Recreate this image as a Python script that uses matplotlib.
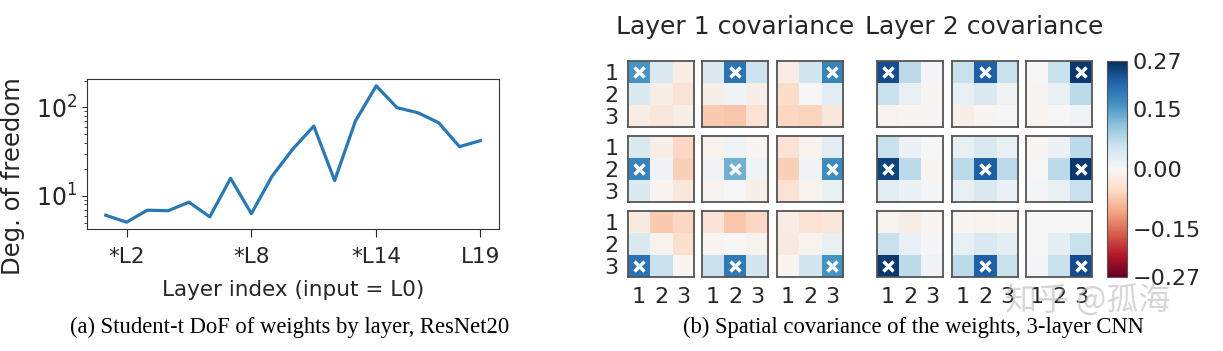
import numpy as np
import matplotlib
matplotlib.use("Agg")
import matplotlib.pyplot as plt

# ---- data ----
layers = np.arange(1, 20)
dof = [6.05, 5.05, 6.9, 6.8, 8.5, 5.8, 15.8, 6.3, 16.8, 34.0, 61.5, 14.9,
       70.0, 175.0, 99.0, 87.0, 67.0, 36.0, 42.0]
xtick_pos = [2, 8, 14, 19]
xtick_lab = ["*L2", "*L8", "*L14", "L19"]

# covariance of weight (r, c) with every 3x3 position, layer 1 / layer 2
cov_l1 = np.array([
    [[[0.16, 0.04, -0.02], [0.04, -0.015, -0.035], [-0.02, -0.03, -0.015]],
     [[0.04, 0.20, 0.055], [-0.015, 0.01, -0.015], [-0.07, -0.075, -0.04]],
     [[-0.02, 0.05, 0.18], [-0.05, 0.0, 0.03], [-0.055, -0.06, -0.03]]],
    [[[0.04, -0.015, -0.055], [0.18, 0.01, -0.065], [0.04, -0.005, -0.03]],
     [[-0.01, 0.01, -0.005], [0.01, 0.13, 0.01], [-0.01, 0.0, -0.015]],
     [[-0.04, -0.01, 0.03], [-0.065, 0.01, 0.17], [-0.04, -0.01, 0.02]]],
    [[[-0.025, -0.07, -0.055], [0.04, -0.01, -0.045], [0.20, 0.06, -0.005]],
     [[-0.035, -0.075, -0.055], [-0.005, 0.0, -0.01], [0.06, 0.19, 0.05]],
     [[-0.02, -0.04, -0.03], [-0.025, -0.01, 0.02], [-0.005, 0.05, 0.16]]],
])
cov_l2 = np.array([
    [[[0.24, 0.07, 0.005], [0.06, 0.02, -0.005], [-0.01, -0.005, -0.005]],
     [[0.06, 0.22, 0.06], [0.02, 0.04, 0.01], [-0.015, -0.005, 0.0]],
     [[0.0, 0.06, 0.26], [-0.005, 0.02, 0.07], [-0.005, 0.0, 0.01]]],
    [[[0.06, 0.015, 0.0], [0.25, 0.07, -0.005], [0.03, 0.015, 0.005]],
     [[0.02, 0.04, 0.02], [0.07, 0.22, 0.07], [0.02, 0.04, 0.015]],
     [[-0.005, 0.015, 0.07], [0.0, 0.07, 0.26], [0.005, 0.02, 0.06]]],
    [[[-0.01, -0.015, -0.005], [0.06, 0.02, 0.005], [0.26, 0.07, 0.01]],
     [[-0.005, -0.01, -0.005], [0.02, 0.04, 0.025], [0.07, 0.22, 0.06]],
     [[0.0, 0.0, 0.0], [0.0, 0.025, 0.06], [0.005, 0.06, 0.24]]],
])
vlim = 0.27
cbar_ticks = [-0.27, -0.15, 0.0, 0.15, 0.27]
grid_labels = ["1", "2", "3"]

TXT = "#262626"
plt.rcParams["font.family"] = ["DejaVu Sans"]
plt.rcParams["text.color"] = TXT
plt.rcParams["axes.labelcolor"] = TXT
plt.rcParams["xtick.color"] = TXT
plt.rcParams["ytick.color"] = TXT

W, H = 1223, 351
fig = plt.figure(figsize=(W / 100, H / 100), dpi=100)


def px_axes(x0, y0, x1, y1):
    return fig.add_axes([x0 / W, 1 - y1 / H, (x1 - x0) / W, (y1 - y0) / H])


# ---- (a) DoF line plot ----
ax = px_axes(87, 79, 499, 229)
ax.plot(layers, dof, color="#2878b5", lw=2.3)
ax.set_yscale("log")
ax.set_xticks(xtick_pos)
ax.set_xticklabels(xtick_lab)
ax.tick_params(axis="x", labelsize=15.5, length=6, pad=7)
ax.tick_params(axis="y", labelsize=17)
ax.set_ylabel("Deg. of freedom", fontsize=17.5, va="center")
ax.yaxis.set_label_coords(-0.18, 0.353)
ax.set_xlabel("Layer index (input = L0)", fontsize=15.5, va="center")
ax.xaxis.set_label_coords(0.5, -0.407)
for s in ax.spines.values():
    s.set_color("#333333")
    s.set_linewidth(0.8)

# ---- (b) covariance grids ----
cell = 66
cols_x = [[628, 702, 777], [877, 952, 1026]]
rows_y = [61, 136, 211]
im = None
for b, cov in enumerate([cov_l1, cov_l2]):
    for r in range(3):
        for c in range(3):
            x0, y0 = cols_x[b][c], rows_y[r]
            a = px_axes(x0, y0, x0 + cell, y0 + cell)
            im = a.imshow(cov[r, c], cmap="RdBu", vmin=-vlim, vmax=vlim,
                          aspect="auto")
            a.plot(c, r, marker="x", color="white", ms=7, mew=2.5)
            a.set_xticks(range(3))
            a.set_yticks(range(3))
            a.tick_params(length=0, labelsize=16, pad=7)
            a.tick_params(axis="y", pad=7)
            a.set_xticklabels(grid_labels if r == 2 else [])
            a.set_yticklabels(grid_labels if (b == 0 and c == 0) else [])
            for s in a.spines.values():
                s.set_color("#555555")
                s.set_linewidth(1.3)
    mid = (cols_x[b][0] + cols_x[b][2] + cell) / 2
    fig.text(mid / W, 1 - 27 / H, "Layer %d covariance" % (b + 1),
             ha="center", va="center", fontsize=18)

cax = px_axes(1107, 61, 1127, 277)
cb = fig.colorbar(im, cax=cax, ticks=cbar_ticks)
cb.ax.set_yticklabels(["%.2f" % t if t >= 0 else "\u2212%.2f" % -t for t in cbar_ticks])
cb.ax.tick_params(length=0, labelsize=16, pad=4)
cb.outline.set_edgecolor("#555555")

# ---- captions ----
cap = dict(family=["Liberation Serif"], fontsize=16.3, color="black",
           ha="center", va="center")
fig.text(290 / W, 1 - 327 / H, "(a) Student-t DoF of weights by layer, ResNet20", **cap)
fig.text(913 / W, 1 - 327 / H, "(b) Spatial covariance of the weights, 3-layer CNN", **cap)

# watermark
fig.text(1088 / W, 1 - 300 / H, "知乎 @孤海", family=["Noto Sans CJK SC", "DejaVu Sans"],
         fontsize=23, color="#bbbbbb", alpha=0.6, ha="center", va="center")

fig.savefig("out.png", dpi=100)
